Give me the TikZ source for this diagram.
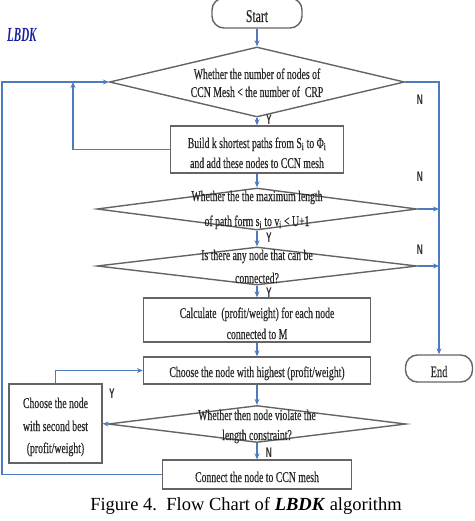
\documentclass[tikz,border=0pt]{standalone}
\usepackage{fontspec}
\setmainfont{Liberation Serif}
\newfontfamily\cond[FakeStretch=0.65,FakeBold=0.4]{Liberation Serif}
\newfontfamily\lbdkfont[FakeStretch=0.55]{Liberation Serif}
\newfontfamily\ynfont[FakeStretch=0.6]{Liberation Sans}
\usetikzlibrary{shapes.geometric,arrows.meta}
\definecolor{connc}{RGB}{78,122,190}
\definecolor{edgec}{RGB}{100,100,100}
\definecolor{ink}{RGB}{40,40,40}
\definecolor{lbdkc}{RGB}{25,30,160}
\begin{document}
\begin{tikzpicture}[x=1pt,y=-1pt,
  box/.style={draw=edgec,line width=1.4pt,rectangle,inner sep=0pt},
  term/.style={box,rounded corners=12pt},
  dia/.style={draw=edgec,line width=1.4pt,diamond,inner sep=0pt},
  ln/.style={font=\cond\fontsize{15}{17}\selectfont,text=ink,anchor=base,inner sep=0pt},
  yn/.style={font=\ynfont\bfseries\fontsize{14}{16}\selectfont,text=ink,anchor=base,inner sep=0pt},
  connl/.style={draw=connc,line width=1.3pt},
  arr/.style={connl,-{Stealth[length=6pt,width=5pt]}}]
\useasboundingbox (0,0) rectangle (474,521);

% shapes
\node[term,minimum width=90pt,minimum height=30pt] (start) at (257,13) {};
\node[dia,minimum width=295pt,minimum height=70pt] (d1) at (257,82) {};
\node[box,minimum width=173pt,minimum height=47pt] (build) at (257,149.5) {};
\node[dia,minimum width=320pt,minimum height=42pt] (d2) at (257,209) {};
\node[dia,minimum width=320pt,minimum height=38pt] (d3) at (257,266) {};
\node[box,minimum width=227pt,minimum height=44pt] (calc) at (257,320) {};
\node[box,minimum width=227pt,minimum height=27pt] (choose) at (257,370.5) {};
\node[term,minimum width=67pt,minimum height=27pt] (end) at (439,368.5) {};
\node[dia,minimum width=298pt,minimum height=37pt] (d4) at (257,424) {};
\node[box,minimum width=93pt,minimum height=79pt] (second) at (55.5,423.5) {};
\node[box,minimum width=189pt,minimum height=29pt] (connect) at (257,474.5) {};

% texts
\node[ln,font=\cond\fontsize{18}{20}\selectfont] (tstart) at (257,22) {Start};
\node[ln] (t1a) at (257,79) {Whether the number of nodes of};
\node[ln] (t1b) at (257,97) {CCN Mesh < the number of\ \ CRP};
\node[ln] (tba) at (257,148) {Build k shortest paths from S\textsubscript{i} to Φ\textsubscript{i}};
\node[ln] (tbb) at (257,168) {and add these nodes to CCN mesh};
\node[ln] (t2a) at (257,201) {Whether the the maximum length};
\node[ln] (t2b) at (257,226) {of path form s\textsubscript{i} to v\textsubscript{i} < U+1};
\node[ln] (t3a) at (257,260) {Is there any node that can be};
\node[ln] (t3b) at (257,283) {connected?};
\node[ln] (tca) at (257,318) {Calculate\ \ (profit/weight) for each node};
\node[ln] (tcb) at (257,339) {connected to M};
\node[ln] (tch) at (257,377) {Choose the node with highest (profit/weight)};
\node[ln,font=\cond\fontsize{16}{18}\selectfont] (tend) at (439,377) {End};
\node[ln] (t4a) at (257,420) {Whether then node violate the};
\node[ln] (t4b) at (257,440) {length constraint?};
\node[ln] (tsa) at (55.5,408) {Choose the node};
\node[ln] (tsb) at (55.5,431) {with second best};
\node[ln] (tsc) at (55.5,453) {(profit/weight)};
\node[ln] (tco) at (257,482) {Connect the node to CCN mesh};

\node[anchor=base west,inner sep=0pt,text=lbdkc,font=\lbdkfont\bfseries\itshape\fontsize{20}{22}\selectfont] (lbdk) at (7,42) {LBDK};
\node[anchor=base,inner sep=0pt,text=black,font=\fontsize{18.5}{21}\selectfont] (cap) at (246,510) {Figure 4.\ \ Flow Chart of \textbf{\textit{LBDK}} algorithm};

% Y / N labels
\node[yn] (y1) at (269,125) {Y};
\node[yn] (n1) at (420,105) {N};
\node[yn] (n2) at (420,182) {N};
\node[yn] (y2) at (269,242) {Y};
\node[yn] (n3) at (420,254) {N};
\node[yn] (y3) at (269,297) {Y};
\node[yn] (y4) at (112,398) {Y};
\node[yn] (n4) at (269,457) {N};

% connectors
\coordinate (L1) at (2,82);
\coordinate (L2) at (73,82);
\draw[arr] (start.south) -- (d1.north);
\draw[arr] (d1.south) -- (build.north);
\draw[arr] (build.south) -- (d2.north);
\draw[arr] (d2.south) -- (d3.north);
\draw[arr] (d3.south) -- (calc.north);
\draw[arr] (calc.south) -- (choose.north);
\draw[arr] (choose.south) -- (d4.north);
\draw[arr] (d4.south) -- (connect.north);
\draw[arr] (d4.west) -- (second.east);
\draw[arr] (second.north) |- (choose.west);
\draw[arr] (connect.west) -| (L1) -- (d1.west);
\draw[arr] (build.west) -| (L2);
\draw[arr] (d1.east) -| (end.north);
\draw[arr] (d2.east) -- (d2.east -| end.north);
\draw[arr] (d3.east) -- (d3.east -| end.north);
\end{tikzpicture}
\end{document}
